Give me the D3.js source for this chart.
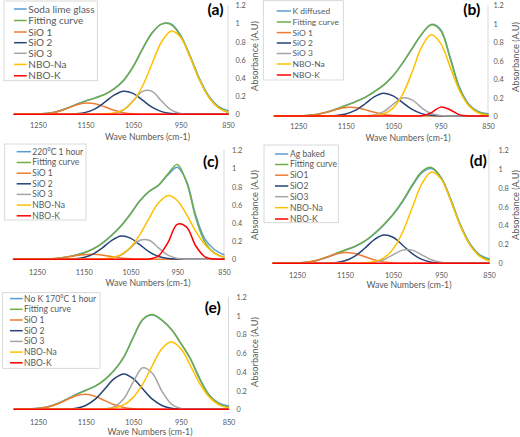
<!DOCTYPE html>
<html>
<head>
<meta charset="utf-8">
<script src="https://cdn.jsdelivr.net/npm/d3@7"></script>
<style>
  html, body { margin: 0; padding: 0; background: #fff; }
  svg { display: block; }
</style>
</head>
<body>
<script>
// ---------------- DATA ----------------
const WAVE = [1300,1290,1270,1250,1230,1210,1190,1170,1150,1130,1110,1090,1070,1050,1030,1010,990,970,950,930,910,890,870,850];
const X_TICKS = [1250,1150,1050,950,850];
const Y_TICKS = [0,0.2,0.4,0.6,0.8,1,1.2];
const PANEL_TAGS = ["(a)","(b)","(c)","(d)","(e)"];
const X_TITLE = "Wave Numbers (cm-1)";
const Y_TITLE = "Absorbance (A.U)";

const LEGEND_A = ["Soda lime glass","Fitting curve","SiO 1","SiO 2","SiO 3","NBO-Na","NBO-K"];
const LEGEND_B = ["K diffused","Fitting curve","SiO 1","SiO 2","SiO 3","NBO-Na","NBO-K"];
const LEGEND_C = ["220°C 1 hour","Fitting curve","SiO 1","SiO 2","SiO 3","NBO-Na","NBO-K"];
const LEGEND_D = ["Ag baked","Fitting curve","SiO1","SiO2","SiO3","NBO-Na","NBO-K"];
const LEGEND_E = ["No K 170°C 1 hour","Fitting curve","SiO 1","SiO 2","SiO 3","NBO-Na","NBO-K"];

// (a) Soda lime glass
const A_RAW  = [0,0,0.001,0.004,0.012,0.031,0.066,0.108,0.147,0.180,0.219,0.280,0.372,0.520,0.715,0.890,0.990,0.992,0.870,0.645,0.392,0.198,0.085,0.040];
const A_FIT  = [0,0,0.001,0.003,0.010,0.029,0.063,0.106,0.145,0.178,0.217,0.278,0.372,0.522,0.719,0.895,0.990,0.985,0.860,0.635,0.380,0.186,0.073,0.022];
const A_SIO1 = [0,0,0.001,0.003,0.010,0.029,0.062,0.101,0.124,0.116,0.082,0.044,0.018,0.005,0.001,0,0,0,0,0,0,0,0,0];
const A_SIO2 = [0,0,0,0,0,0,0.001,0.005,0.021,0.060,0.130,0.210,0.254,0.229,0.155,0.078,0.029,0.008,0.002,0,0,0,0,0];
const A_SIO3 = [0,0,0,0,0,0,0,0,0,0,0.001,0.009,0.049,0.146,0.252,0.252,0.146,0.049,0.009,0.001,0,0,0,0];
const A_NA   = [0,0,0,0,0,0,0,0,0,0.001,0.004,0.015,0.051,0.142,0.311,0.555,0.794,0.913,0.845,0.631,0.378,0.184,0.071,0.023];
const A_K    = [0,0,0,0,0,0,0,0,0,0,0,0,0,0,0,0,0,0,0,0,0,0,0,0];

// (b) K diffused
const B_RAW  = [0,0,0,0.001,0.006,0.018,0.042,0.075,0.114,0.153,0.199,0.262,0.334,0.434,0.572,0.728,0.880,0.990,0.935,0.640,0.310,0.125,0.048,0.025];
const B_FIT  = [0,0,0,0.001,0.006,0.017,0.041,0.074,0.113,0.152,0.198,0.261,0.333,0.434,0.574,0.730,0.885,0.985,0.925,0.625,0.295,0.115,0.040,0.015];
const B_SIO1 = [0,0,0,0.001,0.006,0.017,0.040,0.069,0.092,0.092,0.069,0.040,0.017,0.006,0.001,0,0,0,0,0,0,0,0,0];
const B_SIO2 = [0,0,0,0,0,0,0.001,0.005,0.021,0.060,0.127,0.206,0.245,0.217,0.145,0.071,0.026,0.007,0.001,0,0,0,0,0];
const B_SIO3 = [0,0,0,0,0,0,0,0,0,0,0.001,0.010,0.047,0.126,0.195,0.175,0.090,0.027,0.005,0,0,0,0,0];
const B_NA   = [0,0,0,0,0,0,0,0,0,0,0.001,0.005,0.024,0.085,0.233,0.475,0.744,0.879,0.788,0.534,0.273,0.107,0.032,0.007];
const B_K    = [0,0,0,0,0,0,0,0,0,0,0,0,0,0,0,0,0.003,0.034,0.096,0.068,0.012,0.001,0,0];

// (c) 220°C 1 hour
const C_RAW  = [0,0,0,0.001,0.004,0.010,0.023,0.043,0.071,0.114,0.178,0.265,0.368,0.497,0.640,0.745,0.812,0.925,1.010,0.855,0.475,0.215,0.105,0.050];
const C_FIT  = [0,0,0,0.001,0.003,0.009,0.022,0.042,0.070,0.113,0.177,0.264,0.368,0.498,0.642,0.747,0.816,0.936,1.042,0.844,0.448,0.181,0.067,0.022];
const C_SIO1 = [0,0,0,0.001,0.003,0.009,0.021,0.037,0.051,0.055,0.045,0.029,0.015,0.006,0.002,0,0,0,0,0,0,0,0,0];
const C_SIO2 = [0,0,0,0,0,0,0.001,0.005,0.019,0.057,0.126,0.207,0.255,0.233,0.160,0.082,0.031,0.009,0.002,0,0,0,0,0];
const C_SIO3 = [0,0,0,0,0,0,0,0,0,0,0.001,0.010,0.045,0.126,0.209,0.209,0.126,0.045,0.010,0.001,0,0,0,0];
const C_NA   = [0,0,0,0,0,0,0,0,0,0.001,0.005,0.018,0.053,0.133,0.271,0.453,0.621,0.699,0.646,0.490,0.305,0.156,0.065,0.022];
const C_K    = [0,0,0,0,0,0,0,0,0,0,0,0,0,0,0,0.003,0.038,0.183,0.384,0.353,0.143,0.025,0.002,0];

// (d) Ag baked
const D_RAW  = [0,0,0.001,0.003,0.010,0.027,0.058,0.097,0.137,0.175,0.228,0.305,0.400,0.512,0.650,0.815,0.955,1.000,0.905,0.680,0.412,0.210,0.092,0.045];
const D_FIT  = [0,0,0.001,0.003,0.011,0.029,0.062,0.102,0.141,0.178,0.231,0.309,0.404,0.518,0.659,0.826,0.968,1.012,0.904,0.672,0.405,0.202,0.085,0.040];
const D_SIO1 = [0,0,0.001,0.003,0.011,0.029,0.061,0.095,0.115,0.104,0.072,0.037,0.015,0.004,0.001,0,0,0,0,0,0,0,0,0];
const D_SIO2 = [0,0,0,0,0,0,0.001,0.007,0.026,0.073,0.153,0.246,0.298,0.275,0.191,0.101,0.041,0.012,0.003,0.001,0,0,0,0];
const D_SIO3 = [0,0,0,0,0,0,0,0,0,0,0.002,0.010,0.037,0.089,0.139,0.139,0.089,0.037,0.010,0.002,0,0,0,0];
const D_NA   = [0,0,0,0,0,0,0,0,0,0.001,0.004,0.016,0.054,0.150,0.328,0.586,0.838,0.963,0.891,0.666,0.399,0.194,0.075,0.024];
const D_K    = [0,0,0,0,0,0,0,0,0,0,0,0,0,0,0,0,0,0,0,0,0,0,0,0];

// (e) No K 170°C 1 hour
const E_RAW  = [0,0.001,0.003,0.010,0.027,0.060,0.108,0.158,0.203,0.247,0.317,0.415,0.555,0.765,0.955,1.005,0.950,0.852,0.705,0.540,0.325,0.150,0.065,0.035];
const E_FIT  = [0,0.001,0.002,0.008,0.024,0.056,0.105,0.156,0.201,0.246,0.316,0.415,0.557,0.770,0.960,1.010,0.950,0.850,0.700,0.535,0.315,0.145,0.058,0.022];
const E_SIO1 = [0,0.001,0.002,0.008,0.024,0.056,0.102,0.144,0.160,0.138,0.092,0.048,0.020,0.006,0.002,0,0,0,0,0,0,0,0,0];
const E_SIO2 = [0,0,0,0,0,0,0.003,0.012,0.041,0.108,0.217,0.327,0.377,0.327,0.217,0.108,0.041,0.012,0.003,0,0,0,0,0];
const E_SIO3 = [0,0,0,0,0,0,0,0,0,0,0.003,0.025,0.112,0.293,0.442,0.385,0.194,0.056,0.009,0.001,0,0,0,0];
const E_NA   = [0,0,0,0,0,0,0,0,0,0,0.004,0.015,0.048,0.127,0.270,0.466,0.644,0.720,0.644,0.466,0.270,0.127,0.048,0.015];
const E_K    = [0,0,0,0,0,0,0,0,0,0,0,0,0,0,0,0,0,0,0,0,0,0,0,0];

// ---------------- STYLE / LAYOUT ----------------
const COLORS = ["#5B9BD5","#70AD47","#ED7D31","#264478","#A5A5A5","#FFC000","#FF0000"];
const FONT = "Lato, 'Open Sans', sans-serif";
const TEXT_GRAY = "#595959";

const PANELS = [
  { tag: PANEL_TAGS[0], legend: LEGEND_A, series: [A_RAW,A_FIT,A_SIO1,A_SIO2,A_SIO3,A_NA,A_K] },
  { tag: PANEL_TAGS[1], legend: LEGEND_B, series: [B_RAW,B_FIT,B_SIO1,B_SIO2,B_SIO3,B_NA,B_K] },
  { tag: PANEL_TAGS[2], legend: LEGEND_C, series: [C_RAW,C_FIT,C_SIO1,C_SIO2,C_SIO3,C_NA,C_K] },
  { tag: PANEL_TAGS[3], legend: LEGEND_D, series: [D_RAW,D_FIT,D_SIO1,D_SIO2,D_SIO3,D_NA,D_K] },
  { tag: PANEL_TAGS[4], legend: LEGEND_E, series: [E_RAW,E_FIT,E_SIO1,E_SIO2,E_SIO3,E_NA,E_K] }
];

// lgW: target pixel width of the "Fitting curve" legend entry
const LAYOUT = [
  { x0:14.3, x1:228, yb:114.3, yt:5, xtY:125, xT:[147.5,136.5], ytX:235.5, yT:[255,56],
    lg:{x:4,y:1,w:93.3,h:79.7, ys:[9,20.5,32,42.7,53.3,64.4,75.8], lx0:14, lx1:26.7, tx:28.3, lgW:55}, tag:[215.5,10] },
  { x0:274.5, x1:488, yb:116, yt:5, xtY:126.7, xT:[408,137.5], ytX:493.5, yT:[516,57],
    lg:{x:263.3,y:0.7,w:80,h:79.3, ys:[11,22,32.6,43,53.5,64,75], lx0:276.7, lx1:291, tx:292.5, lgW:46.5}, tag:[471.7,10] },
  { x0:13.6, x1:224, yb:259.3, yt:150, xtY:272.2, xT:[148,282.5], ytX:232, yT:[255,205],
    lg:{x:4.7,y:144,w:81.3,h:76, ys:[151.7,162.5,173.2,183.8,194.4,205.1,215.8], lx0:16.7, lx1:31, tx:32.3, lgW:47}, tag:[210.8,161.7] },
  { x0:273, x1:489, yb:263.3, yt:149.6, xtY:275.3, xT:[409,284.8], ytX:498.5, yT:[516,205],
    lg:{x:264,y:145,w:74.3,h:77.7, ys:[154,164.5,175.2,186,196.7,207.7,219], lx0:275, lx1:288.3, tx:290, lgW:47}, tag:[478.3,160.7] },
  { x0:14.3, x1:228.5, yb:409.3, yt:296.7, xtY:422.3, xT:[150,431.8], ytX:236.5, yT:[254.3,352],
    lg:{x:2.7,y:292.7,w:97.3,h:75.6, ys:[298.6,309.3,320,330.7,341.4,352.1,362.8], lx0:10, lx1:22.7, tx:24, lgW:47}, tag:[212.8,307.3] }
];
// target widths for text fitting (pixels)
const FIT_W = { tick: 17, xTitle: 85, yTitle: 70, tag: 16 };

// ---------------- DRAW ----------------
const svg = d3.select("body").append("svg")
  .attr("width", 520).attr("height", 437)
  .style("background", "#fff");

function sizeFor(str, target, weight) {
  const t = svg.append("text").attr("font-family", FONT).attr("font-size", 10)
    .attr("font-weight", weight || "normal").text(str);
  const w = t.node().getComputedTextLength();
  t.remove();
  return w > 0 ? 10 * target / w : 9;
}
const TICK_FS = sizeFor("1250", FIT_W.tick);
const XT_FS = sizeFor(X_TITLE, FIT_W.xTitle);
const YT_FS = sizeFor(Y_TITLE, FIT_W.yTitle);
const TAG_FS = sizeFor("(a)", FIT_W.tag, "bold");

PANELS.forEach((p, i) => {
  const L = LAYOUT[i];
  const x = d3.scaleLinear().domain([1300, 850]).range([L.x0, L.x1]);
  const y = d3.scaleLinear().domain([0, 1.2]).range([L.yb, L.yt]);
  const g = svg.append("g");

  // axis lines
  g.append("line").attr("x1", x(1300)).attr("x2", x(850)).attr("y1", y(0)).attr("y2", y(0))
    .attr("stroke", "#d9d9d9").attr("stroke-width", 1);
  g.append("line").attr("x1", x(850)).attr("x2", x(850)).attr("y1", y(0)).attr("y2", y(1.2))
    .attr("stroke", "#d9d9d9").attr("stroke-width", 1);

  // x axis labels
  const xa = g.append("g").attr("transform", `translate(0,${L.xtY})`)
    .call(d3.axisBottom(x).tickValues(X_TICKS).tickSize(0).tickPadding(0).tickFormat(d => String(d)));
  xa.select(".domain").remove();
  xa.attr("font-family", FONT).attr("font-size", TICK_FS).style("color", TEXT_GRAY);
  xa.selectAll("text").attr("y", 0).attr("dy", "0.35em");

  // y axis labels (right side)
  const ya = g.append("g").attr("transform", `translate(${L.ytX},0)`)
    .call(d3.axisRight(y).tickValues(Y_TICKS).tickSize(0).tickPadding(0).tickFormat(d => String(d)));
  ya.select(".domain").remove();
  ya.attr("font-family", FONT).attr("font-size", TICK_FS).style("color", TEXT_GRAY);
  ya.selectAll("text").attr("x", 0).attr("dy", "0.35em").attr("text-anchor", "start");

  // axis titles
  g.append("text").attr("x", L.xT[0]).attr("y", L.xT[1]).attr("dy", "0.35em")
    .attr("text-anchor", "middle").attr("font-family", FONT).attr("font-size", XT_FS)
    .attr("fill", TEXT_GRAY).text(X_TITLE);
  g.append("text").attr("transform", `translate(${L.yT[0]},${L.yT[1]}) rotate(-90)`)
    .attr("dy", "0.35em").attr("text-anchor", "middle").attr("font-family", FONT)
    .attr("font-size", YT_FS).attr("fill", TEXT_GRAY).text(Y_TITLE);

  // curves
  const line = d3.line()
    .x((d, j) => x(WAVE[j]))
    .y(d => y(d))
    .curve(d3.curveCatmullRom.alpha(0.5));
  p.series.forEach((arr, k) => {
    g.append("path").attr("d", line(arr)).attr("fill", "none")
      .attr("stroke", COLORS[k]).attr("stroke-width", 1.5)
      .attr("stroke-linejoin", "round").attr("stroke-linecap", "round");
  });

  // legend
  const lg = L.lg;
  const lfs = sizeFor(p.legend[1], lg.lgW);
  const leg = g.append("g");
  leg.append("rect").attr("x", lg.x).attr("y", lg.y).attr("width", lg.w).attr("height", lg.h)
    .attr("fill", "#fff").attr("stroke", "#cfcfcf").attr("stroke-width", 0.8);
  p.legend.forEach((name, k) => {
    leg.append("line").attr("x1", lg.lx0).attr("x2", lg.lx1).attr("y1", lg.ys[k]).attr("y2", lg.ys[k])
      .attr("stroke", COLORS[k]).attr("stroke-width", 1.5);
    leg.append("text").attr("x", lg.tx).attr("y", lg.ys[k]).attr("dy", "0.35em")
      .attr("font-family", FONT).attr("font-size", lfs).attr("fill", TEXT_GRAY).text(name);
  });

  // panel tag
  g.append("text").attr("x", L.tag[0]).attr("y", L.tag[1]).attr("dy", "0.35em")
    .attr("text-anchor", "middle").attr("font-family", FONT).attr("font-weight", "bold")
    .attr("font-size", TAG_FS).attr("fill", "#000").text(p.tag);
});
</script>
</body>
</html>
